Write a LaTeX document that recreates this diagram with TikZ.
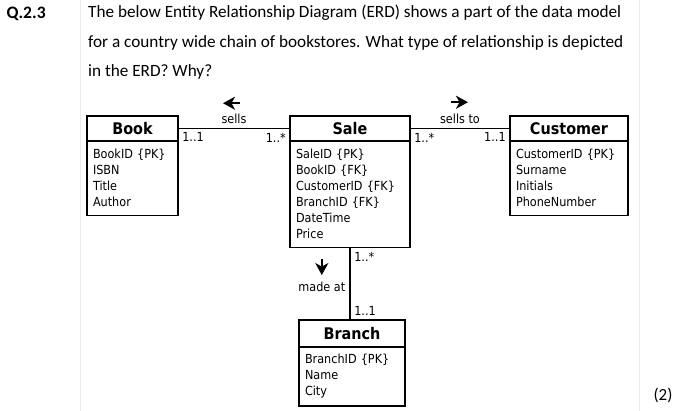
\documentclass[tikz,border=0pt]{standalone}
\usepackage{fontspec}
\setmainfont{Carlito}
\newfontfamily\erdfont[FakeStretch=0.9]{DejaVu Sans}
\usetikzlibrary{arrows.meta, positioning}

\begin{document}
\begin{tikzpicture}[x=1pt, y=-1pt,
    ent/.style={draw, line width=1.6pt, outer sep=0pt, inner sep=0pt,
                minimum width=#1, minimum height=25pt, anchor=north west,
                font=\erdfont\bfseries\fontsize{16}{18}\selectfont},
    attr/.style={draw, line width=1.6pt, outer sep=0pt, align=left,
                 text width=#1, inner xsep=6pt, inner ysep=8.5pt,
                 font=\erdfont\fontsize{12.5}{16}\selectfont},
    link/.style={line width=1.6pt},
    mult/.style={font=\erdfont\fontsize{12.5}{14}\selectfont, inner sep=3.5pt},
    rel/.style={font=\erdfont\fontsize{12.5}{14}\selectfont, inner sep=4pt},
    dirarr/.style={line width=2pt, -{Stealth[length=12pt, width=13pt, inset=3.5pt]}},
  ]
    \useasboundingbox (0,0) rectangle (684,411);
    \draw[black!8] (80,0) -- (80,411);
    \draw[black!8] (639,0) -- (639,411);

    % question
    \node[anchor=west, font=\bfseries\fontsize{17.5}{20}\selectfont] (qnum) at (3,14) {Q.2.3};
    \node[anchor=north west, align=left, inner sep=0pt,
          font=\fontsize{17.2}{29.5}\selectfont] (qtext) at (88,5)
      {The below Entity Relationship Diagram (ERD) shows a part of the data model\\
       for a country wide chain of bookstores. What type of relationship is depicted\\
       in the ERD? Why?};
    \node[font=\fontsize{17}{20}\selectfont] (marks) at (663,395) {(2)};

    % Book
    \node[ent=91pt] (bookH) at (87,116) {Book};
    \node[attr=79pt, below=0pt of bookH] (bookB)
      {BookID \{PK\}\\ISBN\\Title\\Author};

    % Sale
    \node[ent=120pt] (saleH) at (290,116) {Sale};
    \node[attr=108pt, below=0pt of saleH] (saleB)
      {SaleID \{PK\}\\BookID \{FK\}\\CustomerID \{FK\}\\BranchID \{FK\}\\DateTime\\Price};

    % Customer
    \node[ent=118pt] (custH) at (510,116) {Customer};
    \node[attr=106pt, below=0pt of custH] (custB)
      {CustomerID \{PK\}\\Surname\\Initials\\PhoneNumber};

    % Branch
    \node[ent=106pt, minimum height=27pt] (branchH) at (299,320) {Branch};
    \node[attr=94pt, inner ysep=7.5pt, below=0pt of branchH] (branchB)
      {BranchID \{PK\}\\Name\\City};

    % relationships
    \draw[link] (bookH.east) --
      node[mult, pos=0, below right] (m1) {1..1}
      node[mult, pos=1, below left] (m2) {1..*}
      node[rel, midway, above] (sellsL) {sells} (saleH.west);
    \draw[dirarr] ([xshift=6pt, yshift=6pt]sellsL.north) -- ++(-17,0);

    \draw[link] (saleH.east) --
      node[mult, pos=0, below right] (m3) {1..*}
      node[mult, pos=1, below left] (m4) {1..1}
      node[rel, midway, above] (sellsToL) {sells to} (custH.west);
    \draw[dirarr] ([xshift=-9pt, yshift=7pt]sellsToL.north) -- ++(17,0);

    \draw[link] (saleB.south) --
      node[mult, pos=0, below right] (m5) {1..*}
      node[mult, pos=1, above right] (m6) {1..1}
      node[rel, pos=0.54, left] (madeL) {made at}
      (saleB.south |- branchH.north);
    \draw[dirarr] ([yshift=18pt]madeL.north) -- ([yshift=2pt]madeL.north);
\end{tikzpicture}
\end{document}
